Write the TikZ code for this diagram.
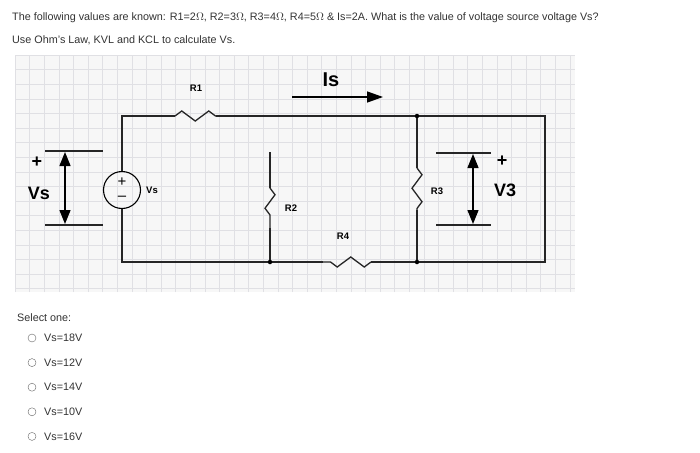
\documentclass[tikz,border=0pt]{standalone}
\usepackage{fontspec}
\setmainfont{Liberation Sans}
\usetikzlibrary{decorations.pathmorphing,arrows.meta}
\begin{document}
\begin{tikzpicture}[x=1pt,y=-1pt,
  wire/.style={line width=1.3pt,black!85},
  res/.style={wire,decorate,decoration={zigzag,segment length=27pt,amplitude=5pt}},
  txt/.style={font=\fontsize{10.8}{12}\selectfont,anchor=west,text=black!80,inner sep=0},
  lbl/.style={font=\bfseries\fontsize{9.5}{10}\selectfont,inner sep=0},
  big/.style={font=\bfseries\fontsize{18}{18}\selectfont,inner sep=0},
  varrow/.style={line width=1.3pt,{Triangle[length=14pt,width=11pt]}-{Triangle[length=14pt,width=11pt]}},
  radio/.style={draw=black!60,circle,minimum size=8pt,inner sep=0},
  dot/.style={circle,fill=black,inner sep=0,minimum size=4.5pt}]
\useasboundingbox (0,0) rectangle (700,452);
\fill[white] (0,0) rectangle (700,452);
\fill[black!3] (15,55) rectangle (575,292);
\draw[blue!12!black!12,line width=0.5pt,shift={(15,55)}] (0,0) grid[step=14.6pt] (560,237);
% texts
\node[txt] (q1) at (12,18) {The following values are known: R1=2$\Omega$, R2=3$\Omega$, R3=4$\Omega$, R4=5$\Omega$ \& Is=2A. What is the value of voltage source voltage Vs?};
\node[txt] (q2) at (12,40) {Use Ohm's Law, KVL and KCL to calculate Vs.};
\node[txt] (sel) at (17,318) {Select one:};
\foreach \i/\v in {0/18,1/12,2/14,3/10,4/16}{
  \node[radio] (r\i) at (32,338+24.6*\i) {};
  \node[txt] (o\i) at (44,338+24.6*\i) {Vs=\v V};
}
% circuit coordinates
\coordinate (tl) at (122,116);
\coordinate (r1a) at (175,116);
\coordinate (r1b) at (216,116);
\coordinate (tm) at (417,116);
\coordinate (tr) at (545,116);
\coordinate (br) at (545,262);
\coordinate (bm) at (417,262);
\coordinate (r4b) at (371,262);
\coordinate (r4a) at (323,262);
\coordinate (b2) at (270,262);
\coordinate (bl) at (122,262);
\coordinate (r2t) at (270,152);
\coordinate (r2a) at (270,188);
\coordinate (r2b) at (270,228);
\coordinate (r3a) at (417,168);
\coordinate (r3b) at (417,210);
\node[draw,circle,line width=1.1pt,minimum size=37pt,inner sep=0] (vs) at (122,190) {};
\node[font=\fontsize{15}{15}\selectfont,inner sep=0] (vsp) at (122,182) {+};
\node[font=\fontsize{15}{15}\selectfont,inner sep=0] (vsm) at (122,198) {--};
\draw[wire] (vs.north) -- (tl) -- (r1a);
\draw[res] (r1a) -- (r1b);
\draw[wire] (r1b) -- (tm) -- (tr) -- (br) -- (bm) -- (r4b);
\draw[res] (r4b) -- (r4a);
\draw[wire] (r4a) -- (b2) -- (bl) -- (vs.south);
\draw[wire] (r2t) -- (r2a); \draw[res] (r2a) -- (r2b); \draw[wire] (r2b) -- (b2);
\draw[wire] (tm) -- (r3a); \draw[res] (r3a) -- (r3b); \draw[wire] (r3b) -- (bm);
\node[dot] (d1) at (tm) {}; \node[dot] (d2) at (bm) {}; \node[dot] (d3) at (b2) {};
% labels
\node[lbl] (l1) at (196,88) {R1};
\node[lbl] (l2) at (291,208) {R2};
\node[lbl] (l3) at (437,191) {R3};
\node[lbl] (l4) at (343,236) {R4};
\node[lbl] (l5) at (152,190) {Vs};
% Is arrow
\node[big,font=\bfseries\fontsize{20}{20}\selectfont] (is) at (331,80) {Is};
\coordinate (isa) at (292,97); \coordinate (isb) at (383,97);
\draw[line width=1.3pt,-{Triangle[length=16pt,width=11pt]}] (isa) -- (isb);
% Vs measurement
\coordinate (vsl1a) at (45,151); \coordinate (vsl1b) at (103,151);
\coordinate (vsl2a) at (45,225); \coordinate (vsl2b) at (103,225);
\draw[wire] (vsl1a) -- (vsl1b); \draw[wire] (vsl2a) -- (vsl2b);
\coordinate (va) at (65,152); \coordinate (vb) at (65,224);
\draw[varrow] (va) -- (vb);
\node[big] (vp) at (37,162) {+};
\node[big] (vst) at (39,193) {Vs};
% V3 measurement
\coordinate (v3l1a) at (436,153); \coordinate (v3l1b) at (491,153);
\coordinate (v3l2a) at (436,225); \coordinate (v3l2b) at (491,225);
\draw[wire] (v3l1a) -- (v3l1b); \draw[wire] (v3l2a) -- (v3l2b);
\coordinate (wa) at (473,154); \coordinate (wb) at (473,224);
\draw[varrow] (wa) -- (wb);
\node[big] (wp) at (502,161) {+};
\node[big] (v3t) at (505,190) {V3};
\end{tikzpicture}
\end{document}
